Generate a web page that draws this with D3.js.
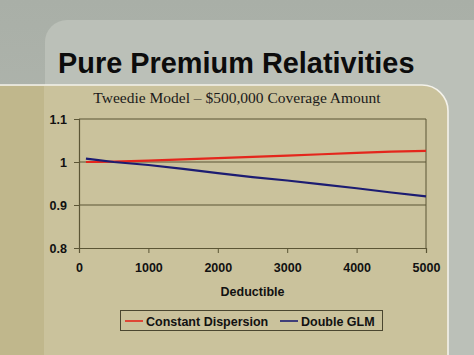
<!DOCTYPE html>
<html><head><meta charset="utf-8">
<script src="https://cdn.jsdelivr.net/npm/d3@7"></script>
<style>html,body{margin:0;padding:0;overflow:hidden;background:#b0b6ae}</style>
</head><body>
<script>
const deductibles = [100, 250, 500, 1000, 1500, 2000, 2500, 3000, 3500, 4000, 4500, 5000];
const constantDispersion = [1.000, 1.000, 1.001, 1.003, 1.006, 1.009, 1.012, 1.015, 1.018, 1.021, 1.024, 1.026];
const doubleGLM = [1.008, 1.005, 1.000, 0.993, 0.984, 0.974, 0.965, 0.957, 0.948, 0.939, 0.929, 0.920];
const seriesNames = ["Constant Dispersion", "Double GLM"];
const xTicks = [0, 1000, 2000, 3000, 4000, 5000];
const yTicks = [0.8, 0.9, 1, 1.1];
const titleText = "Pure Premium Relativities";
const subtitleText = "Tweedie Model – $500,000 Coverage Amount";
const xLabel = "Deductible";

const W = 474, H = 355;
const svg = d3.select("body").append("svg").attr("width", W).attr("height", H);
const defs = svg.append("defs");
const g1 = defs.append("linearGradient").attr("id","bg").attr("x1",0).attr("y1",0).attr("x2",0).attr("y2",1);
g1.append("stop").attr("offset","0%").attr("stop-color","#a9afa7");
g1.append("stop").attr("offset","100%").attr("stop-color","#b8bdb5");
svg.append("rect").attr("width",W).attr("height",H).attr("fill","url(#bg)");
// light panel
svg.append("rect").attr("x",45).attr("y",20).attr("width",470).attr("height",400).attr("rx",22).attr("fill","#bbc0b8");
// tan panel with rounded top-right corner
const tx0 = -2, ty0 = 85, tx1 = 448, r = 26;
const tanPath = `M${tx0},${ty0} L${tx1-r},${ty0} A${r},${r} 0 0 1 ${tx1},${ty0+r} L${tx1},${H+2} L${tx0},${H+2} Z`;
svg.append("path").attr("d",tanPath).attr("fill","#cac29c").attr("stroke","#f4f2ea").attr("stroke-width",1.6);
svg.append("rect").attr("x",0).attr("y",86).attr("width",44).attr("height",H-86).attr("fill","#c0b78c");

svg.append("text").attr("x",58).attr("y",73).text(titleText)
  .attr("font-family","Liberation Sans, Arial, sans-serif").attr("font-weight","bold").attr("font-size",28.9).attr("fill","#0c0c0c");
svg.append("text").attr("x",237).attr("y",103).attr("text-anchor","middle").text(subtitleText)
  .attr("font-family","Liberation Serif, Times New Roman, serif").attr("font-size",15.5).attr("fill","#1a1a1a");

const L = 79, R = 426, T = 119, B = 248;
const x = d3.scaleLinear().domain([0,5000]).range([L,R]);
const y = d3.scaleLinear().domain([0.8,1.1]).range([B,T]);
const axisColor = "#5b5535";
const tickFont = "Liberation Sans, Arial, sans-serif";

// gridlines
svg.append("g").selectAll("line").data(yTicks.filter(v=>v>0.8)).join("line")
  .attr("x1",L).attr("x2",R).attr("y1",d=>y(d)).attr("y2",d=>y(d)).attr("stroke",axisColor).attr("stroke-width",1);
// right border
svg.append("line").attr("x1",R).attr("x2",R).attr("y1",T).attr("y2",B).attr("stroke",axisColor);

const xAxis = svg.append("g").attr("transform",`translate(0,${B})`)
  .call(d3.axisBottom(x).tickValues(xTicks).tickSize(5).tickPadding(10).tickFormat(d3.format("d")));
const yAxis = svg.append("g").attr("transform",`translate(${L},0)`)
  .call(d3.axisLeft(y).tickValues(yTicks).tickSize(5).tickPadding(7).tickFormat(d=>String(+d.toFixed(1))));
[xAxis,yAxis].forEach(a=>{
  a.select(".domain").attr("stroke",axisColor).attr("stroke-width",1.2);
  a.selectAll(".tick line").attr("stroke",axisColor);
  a.selectAll("text").attr("font-family",tickFont).attr("font-weight","bold").attr("font-size",12.5).attr("fill","#111");
});
yAxis.selectAll("text").attr("dy","0.35em");

svg.append("text").attr("x",(L+R)/2).attr("y",296).attr("text-anchor","middle").text(xLabel)
  .attr("font-family",tickFont).attr("font-weight","bold").attr("font-size",12.5).attr("fill","#111");

const line = d3.line().x(d=>x(d[0])).y(d=>y(d[1]));
const colors = ["#e4261c","#1c1c72"];
[constantDispersion, doubleGLM].forEach((vals,i)=>{
  svg.append("path").attr("d",line(deductibles.map((d,j)=>[d,vals[j]])))
    .attr("fill","none").attr("stroke",colors[i]).attr("stroke-width",2.2);
});

// legend
const lg = svg.append("g");
lg.append("rect").attr("x",120.5).attr("y",310.5).attr("width",262).attr("height",20).attr("fill","none").attr("stroke","#4a4630").attr("stroke-width",1);
const items = [{x:125, tx:146},{x:280, tx:301}];
items.forEach((it,i)=>{
  lg.append("line").attr("x1",it.x).attr("x2",it.x+18).attr("y1",321).attr("y2",321).attr("stroke",colors[i]).attr("stroke-width",1.6);
  lg.append("text").attr("x",it.tx).attr("y",325.5).text(seriesNames[i])
    .attr("font-family",tickFont).attr("font-weight","bold").attr("font-size",12.5).attr("fill","#111");
});
</script>
</body></html>
